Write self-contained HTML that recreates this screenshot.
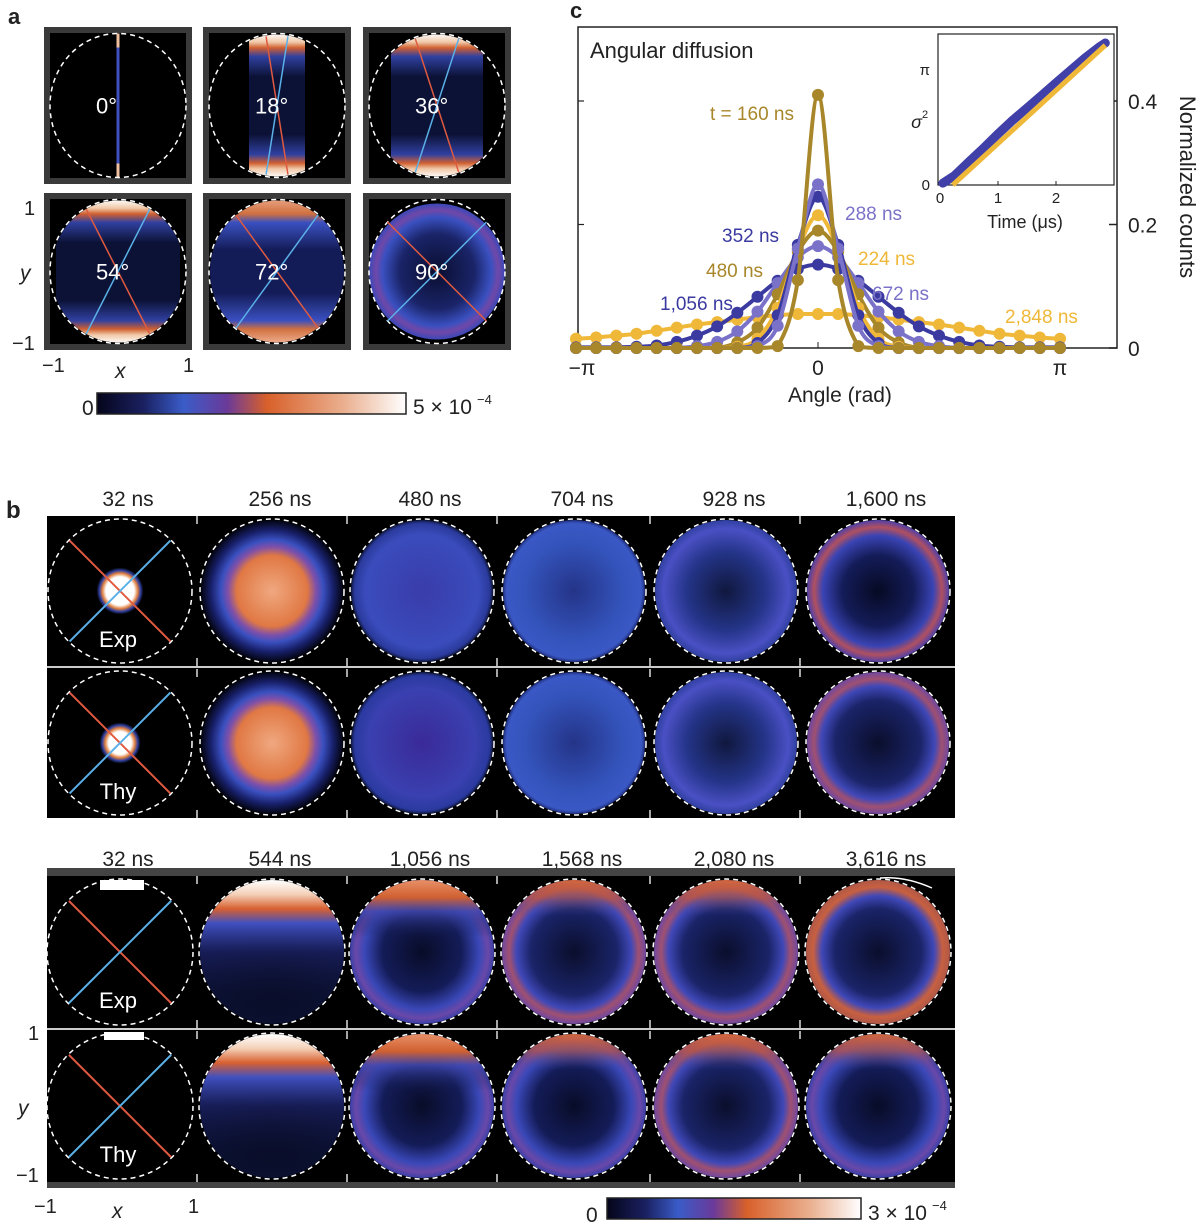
<!DOCTYPE html>
<html><head><meta charset="utf-8">
<style>
html,body{margin:0;padding:0;background:#fff;}
svg{display:block;font-family:"Liberation Sans",Arial,sans-serif;}
</style></head>
<body>
<svg id="fig" width="1200" height="1224" viewBox="0 0 1200 1224" xmlns="http://www.w3.org/2000/svg">
<defs id="defs">
<linearGradient id="cbar" x1="0" x2="1" y1="0" y2="0">
<stop offset="0" stop-color="#05051a"/><stop offset="0.15" stop-color="#1a2060"/><stop offset="0.28" stop-color="#3a5cc8"/><stop offset="0.42" stop-color="#6a3a9a"/><stop offset="0.55" stop-color="#d8602a"/><stop offset="0.8" stop-color="#eab090"/><stop offset="1" stop-color="#ffffff"/>
</linearGradient>
<radialGradient id="gDot"><stop offset="0" stop-color="#fff"/><stop offset="0.2" stop-color="#fff"/><stop offset="0.25" stop-color="#e08040"/><stop offset="0.29" stop-color="#3040a0"/><stop offset="0.33" stop-color="#000"/><stop offset="1" stop-color="#000"/></radialGradient>
<radialGradient id="gDotT"><stop offset="0" stop-color="#fff"/><stop offset="0.16" stop-color="#fff"/><stop offset="0.21" stop-color="#e08040"/><stop offset="0.25" stop-color="#3040a0"/><stop offset="0.29" stop-color="#000"/><stop offset="1" stop-color="#000"/></radialGradient>
<radialGradient id="g256"><stop offset="0" stop-color="#f0a880"/><stop offset="0.5" stop-color="#e07844"/><stop offset="0.62" stop-color="#8050a8"/><stop offset="0.72" stop-color="#3a50c0"/><stop offset="0.86" stop-color="#18206a"/><stop offset="1" stop-color="#03040f"/></radialGradient>
<radialGradient id="g480"><stop offset="0" stop-color="#3a3caa"/><stop offset="0.8" stop-color="#3a4cbc"/><stop offset="0.95" stop-color="#2a3a9c"/><stop offset="1" stop-color="#101840"/></radialGradient>
<radialGradient id="g480t"><stop offset="0" stop-color="#3a2a98"/><stop offset="0.75" stop-color="#3a40b0"/><stop offset="0.95" stop-color="#2a3aa0"/><stop offset="1" stop-color="#101840"/></radialGradient>
<radialGradient id="g704"><stop offset="0" stop-color="#243488"/><stop offset="0.7" stop-color="#3454bc"/><stop offset="0.95" stop-color="#3a58c4"/><stop offset="1" stop-color="#203080"/></radialGradient>
<radialGradient id="g928"><stop offset="0" stop-color="#10183e"/><stop offset="0.55" stop-color="#243488"/><stop offset="0.88" stop-color="#4a50c4"/><stop offset="1" stop-color="#3040a0"/></radialGradient>
<radialGradient id="g1600"><stop offset="0" stop-color="#060a24"/><stop offset="0.5" stop-color="#141c58"/><stop offset="0.78" stop-color="#3a44b4"/><stop offset="0.9" stop-color="#b05060"/><stop offset="1" stop-color="#5040a8"/></radialGradient>
<radialGradient id="gRing"><stop offset="0" stop-color="#080c28"/><stop offset="0.55" stop-color="#141c58"/><stop offset="0.8" stop-color="#3a48b8"/><stop offset="0.92" stop-color="#6a48a8"/><stop offset="1" stop-color="#3a40a8"/></radialGradient>
<radialGradient id="gRingM"><stop offset="0" stop-color="#0a0e2c"/><stop offset="0.6" stop-color="#1a2468"/><stop offset="0.8" stop-color="#4048b8"/><stop offset="0.9" stop-color="#a05070"/><stop offset="1" stop-color="#7048a0"/></radialGradient>
<radialGradient id="gRingO"><stop offset="0" stop-color="#0a0e2c"/><stop offset="0.6" stop-color="#1a2468"/><stop offset="0.78" stop-color="#4048b8"/><stop offset="0.9" stop-color="#c86040"/><stop offset="1" stop-color="#b05848"/></radialGradient>
<radialGradient id="gBlack"><stop offset="0" stop-color="#05081a"/><stop offset="1" stop-color="#0a1030"/></radialGradient>
<linearGradient id="gTop544" x1="0" x2="0" y1="0" y2="1"><stop offset="0" stop-color="#fff"/><stop offset="0.1" stop-color="#f4d0b8"/><stop offset="0.2" stop-color="#d86030"/><stop offset="0.3" stop-color="#4050c0" stop-opacity="1"/><stop offset="0.5" stop-color="#1a2060" stop-opacity="0.8"/><stop offset="1" stop-color="#05081a" stop-opacity="0"/></linearGradient>
<linearGradient id="gTop1056" x1="0" x2="0" y1="0" y2="1"><stop offset="0" stop-color="#e89068"/><stop offset="0.12" stop-color="#d06030"/><stop offset="0.22" stop-color="#4048b0" stop-opacity="0.8"/><stop offset="0.4" stop-color="#141c50" stop-opacity="0"/><stop offset="1" stop-color="#0a1030" stop-opacity="0"/></linearGradient>
<linearGradient id="gTopSoft" x1="0" x2="0" y1="0" y2="1"><stop offset="0" stop-color="#d86838" stop-opacity="0.95"/><stop offset="0.12" stop-color="#c05838" stop-opacity="0.6"/><stop offset="0.25" stop-color="#3a48b0" stop-opacity="0"/><stop offset="1" stop-color="#000" stop-opacity="0"/></linearGradient>
<linearGradient id="gCapA" x1="0" x2="0" y1="0" y2="1"><stop offset="0" stop-color="#fff"/><stop offset="0.06" stop-color="#f0c8a8"/><stop offset="0.1" stop-color="#d06030"/><stop offset="0.16" stop-color="#3040a0"/><stop offset="0.3" stop-color="#0c1236"/><stop offset="0.7" stop-color="#0c1236"/><stop offset="0.84" stop-color="#3040a0"/><stop offset="0.9" stop-color="#d06030"/><stop offset="0.94" stop-color="#f0c8a8"/><stop offset="1" stop-color="#fff"/></linearGradient>
<linearGradient id="gCapB" x1="0" x2="0" y1="0" y2="1"><stop offset="0" stop-color="#e8a080"/><stop offset="0.1" stop-color="#d07040"/><stop offset="0.16" stop-color="#3a50c0"/><stop offset="0.35" stop-color="#141c58"/><stop offset="0.65" stop-color="#141c58"/><stop offset="0.84" stop-color="#3a50c0"/><stop offset="0.9" stop-color="#d07040"/><stop offset="1" stop-color="#f0b090"/></linearGradient>
<radialGradient id="gA90"><stop offset="0" stop-color="#0a0e30"/><stop offset="0.55" stop-color="#1a2468"/><stop offset="0.8" stop-color="#3a50c0"/><stop offset="0.9" stop-color="#7048a8"/><stop offset="1" stop-color="#3a48b8"/></radialGradient>
</defs>
<g id="panelA"></g>
<g id="panelB"></g>
<g id="panelC"></g>
</svg>
<script>
// ---------- Panel c data ----------
const angleSteps = [-12,-11,-10,-9,-8,-7,-6,-5,-4,-3,-2,-1,0,1,2,3,4,5,6,7,8,9,10,11,12]; // multiples of pi/12
const seriesNames = ["2,848 ns","1,056 ns","672 ns","480 ns","224 ns","352 ns","288 ns","160 ns"];
const seriesColors = ["#f0b838","#3a3aa0","#7a72c8","#a8862a","#f0b838","#3a3aa0","#7a72c8","#a8862a"];
const s2848 = [0.015,0.017,0.020,0.023,0.028,0.033,0.038,0.042,0.046,0.050,0.053,0.055,0.055,0.055,0.053,0.050,0.046,0.042,0.038,0.033,0.028,0.023,0.020,0.017,0.015];
const s1056 = [0.001,0.001,0.001,0.002,0.004,0.010,0.020,0.035,0.057,0.083,0.109,0.128,0.135,0.128,0.109,0.083,0.057,0.035,0.020,0.010,0.004,0.002,0.001,0.001,0.001];
const s672  = [0,0,0,0,0,0,0.003,0.010,0.027,0.059,0.105,0.147,0.165,0.147,0.105,0.059,0.027,0.010,0.003,0,0,0,0,0,0];
const s480  = [0,0,0,0,0,0,0,0,0.009,0.033,0.087,0.156,0.190,0.156,0.087,0.033,0.009,0,0,0,0,0,0,0,0];
const s224  = [0,0,0,0,0,0,0,0,0.002,0.015,0.065,0.160,0.215,0.160,0.065,0.015,0.002,0,0,0,0,0,0,0,0];
const s352  = [0,0,0,0,0,0,0,0,0,0.008,0.053,0.167,0.245,0.167,0.053,0.008,0,0,0,0,0,0,0,0,0];
const s288  = [0,0,0,0,0,0,0,0,0,0.003,0.036,0.161,0.265,0.161,0.036,0.003,0,0,0,0,0,0,0,0,0];
const s160  = [0,0,0,0,0,0,0,0,0,0,0.003,0.110,0.410,0.110,0.003,0,0,0,0,0,0,0,0,0,0];
const seriesValues = [s2848,s1056,s672,s480,s224,s352,s288,s160];
const yTicks = [0,0.2,0.4];
const yTickLabels = ["0","0.2","0.4"];
// inset
const insetTime = [0.05,0.25,0.5,0.75,1.0,1.25,1.5,1.75,2.0,2.25,2.5,2.75,2.85];
const insetSigma = [0.05,0.25,0.62,0.98,1.36,1.72,2.05,2.38,2.72,3.05,3.38,3.68,3.78];
const insetFitT = [0.22,2.85];
const insetFitS = [0.0,3.72];

const NS = "http://www.w3.org/2000/svg";
function mk(tag, attrs, parent, name) {
  const el = document.createElementNS(NS, tag);
  for (const k in attrs) el.setAttribute(k, attrs[k]);
  
  
  parent.appendChild(el);
  return el;
}
function txt(x, y, s, size, parent, name, extra) {
  const a = Object.assign({x: x, y: y, 'font-size': size, fill: '#222'}, extra || {});
  const t = mk('text', a, parent, name);
  t.textContent = s;
  return t;
}
function smooth(pts) {
  let d = 'M' + pts[0][0] + ',' + pts[0][1];
  for (let i = 0; i < pts.length - 1; i++) {
    const p0 = pts[Math.max(0, i - 1)], p1 = pts[i], p2 = pts[i + 1], p3 = pts[Math.min(pts.length - 1, i + 2)];
    const c1x = p1[0] + (p2[0] - p0[0]) / 6, c1y = p1[1] + (p2[1] - p0[1]) / 6;
    const c2x = p2[0] - (p3[0] - p1[0]) / 6, c2y = p2[1] - (p3[1] - p1[1]) / 6;
    d += 'C' + c1x + ',' + Math.min(348, c1y) + ' ' + c2x + ',' + Math.min(348, c2y) + ' ' + p2[0] + ',' + p2[1];
  }
  return d;
}

// ---------- Panel C ----------
const C = document.getElementById('panelC');
const X0 = 818, XPI = 242, Y0 = 348, YS = 617.5;
function xs(k) { return X0 + k / 12 * XPI; }
function ys(v) { return Y0 - v * YS; }
txt(570, 18, 'c', 22, C, 'panel-c-label', {'font-weight': 'bold'});
mk('rect', {x: 578, y: 27, width: 539, height: 321, fill: 'none', stroke: '#222', 'stroke-width': 1.5}, C, 'plot-frame');
txt(590, 58, 'Angular diffusion', 22, C, 'chart-title');
for (let i = 0; i < yTicks.length; i++) {
  mk('line', {x1: 1117, x2: 1109, y1: ys(yTicks[i]), y2: ys(yTicks[i]), stroke: '#222', 'stroke-width': 1.5}, C, 'y-tick');
  mk('line', {x1: 578, x2: 584, y1: ys(yTicks[i]), y2: ys(yTicks[i]), stroke: '#222', 'stroke-width': 1.2}, C, 'y-tick-left');
  txt(1128, ys(yTicks[i]) + 8, yTickLabels[i], 21, C, 'y-tick-label');
}
mk('line', {x1: X0, x2: X0, y1: 348, y2: 342, stroke: '#222'}, C, 'x-tick');
txt(582, 375, '−π', 21, C, 'x-tick-label', {'text-anchor': 'middle'});
txt(818, 375, '0', 21, C, 'x-tick-label', {'text-anchor': 'middle'});
txt(1060, 375, 'π', 21, C, 'x-tick-label', {'text-anchor': 'middle'});
txt(840, 402, 'Angle (rad)', 21, C, 'x-axis-title', {'text-anchor': 'middle'});
txt(1180, 187, 'Normalized counts', 22, C, 'y-axis-title', {'text-anchor': 'middle', transform: 'rotate(90 1180 187)'});
const G = mk('g', {}, C, 'series-group');
for (let s = 0; s < seriesValues.length; s++) {
  const vals = seriesValues[s];
  const pts = [];
  for (let i = 0; i < angleSteps.length; i++) pts.push([xs(angleSteps[i]), ys(vals[i])]);
  mk('path', {d: smooth(pts), fill: 'none', stroke: seriesColors[s], 'stroke-width': 4, 'stroke-linejoin': 'round'}, G, 'series-line-' + s);
  for (let i = 0; i < angleSteps.length; i++) {
    mk('circle', {cx: xs(angleSteps[i]), cy: ys(vals[i]), r: 6, fill: seriesColors[s]}, G, 'data-point');
  }
}
const lab = [["t = 160 ns",710,120,"#a8862a"],["288 ns",845,220,"#7a72c8"],["352 ns",722,242,"#3a3aa0"],["224 ns",858,265,"#f0b838"],["480 ns",706,277,"#a8862a"],["672 ns",872,300,"#7a72c8"],["1,056 ns",660,310,"#3a3aa0"],["2,848 ns",1005,323,"#f0b838"]];
for (const L of lab) txt(L[1], L[2], L[0], 19, C, 'series-label', {fill: L[3]});
// inset
const IX0 = 940, IXS = 58, IY0 = 185, IYS = 118 / Math.PI;
mk('rect', {x: 938, y: 34, width: 176, height: 151, fill: '#fff', stroke: '#222', 'stroke-width': 1.2}, C, 'inset-frame');
txt(930, 75, 'π', 15, C, 'inset-y-tick', {'text-anchor': 'end'});
txt(930, 190, '0', 15, C, 'inset-y-tick', {'text-anchor': 'end'});
txt(922, 128, 'σ', 18, C, 'inset-y-title', {'font-style': 'italic', 'text-anchor': 'end'});
txt(922, 118, '2', 11, C, 'inset-y-title-exp');
const itl = [[0,'0'],[1,'1'],[2,'2']];
for (const t of itl) { txt(IX0 + t[0] * IXS, 203, t[1], 15, C, 'inset-x-tick', {'text-anchor': 'middle'}); mk('line', {x1: IX0 + t[0] * IXS, x2: IX0 + t[0] * IXS, y1: 185, y2: 181, stroke: '#222'}, C, 'inset-x-tickmark'); }
txt(1025, 228, 'Time (μs)', 18, C, 'inset-x-title', {'text-anchor': 'middle'});
let idp = '';
for (let i = 0; i < insetTime.length; i++) idp += (i ? 'L' : 'M') + (IX0 + insetTime[i] * IXS) + ',' + (IY0 - insetSigma[i] * IYS);
mk('path', {d: idp, fill: 'none', stroke: '#4040a8', 'stroke-width': 9, 'stroke-linecap': 'round'}, C, 'inset-data');
mk('line', {x1: IX0 + insetFitT[0] * IXS, y1: IY0 - insetFitS[0] * IYS, x2: IX0 + insetFitT[1] * IXS, y2: IY0 - insetFitS[1] * IYS, stroke: '#f0b838', 'stroke-width': 5}, C, 'inset-fit');

// ---------- Panel A ----------
const A = document.getElementById('panelA');
const defs = document.getElementById('defs');
txt(8, 24, 'a', 22, A, 'panel-a-label', {'font-weight': 'bold'});
const aX = [44, 203, 363], aY = [27, 193], aW = 148, aH = 157;
const aLabels = ['0°','18°','36°','54°','72°','90°'];
for (let r = 0; r < 2; r++) for (let c = 0; c < 3; c++) {
  const i = r * 3 + c, x = aX[c], y = aY[r];
  const g = mk('g', {}, A, 'angle-frame-' + aLabels[i]);
  mk('rect', {x: x, y: y, width: aW, height: aH, fill: '#3a3a3a'}, g, 'frame-border');
  mk('rect', {x: x + 6, y: y + 6, width: aW - 12, height: aH - 12, fill: '#000'}, g, 'frame-bg');
  const cx = x + aW / 2, cy = y + aH / 2, rx = 68, ry = 72;
  const cp = mk('clipPath', {id: 'clipA' + i}, defs, 'clip');
  mk('ellipse', {cx: cx, cy: cy, rx: rx - 1, ry: ry - 1}, cp, 'clip-shape');
  const half = [0, 28, 46, 62, 68, 68][i];
  if (i === 0) {
    mk('rect', {x: cx - 1.5, y: cy - ry, width: 3, height: 2 * ry, fill: '#4050c0'}, g, 'density-line');
    mk('rect', {x: cx - 1.5, y: cy - ry, width: 3, height: 14, fill: '#f0c0a0'}, g, 'cap');
    mk('rect', {x: cx - 1.5, y: cy + ry - 14, width: 3, height: 14, fill: '#f0c0a0'}, g, 'cap');
  } else if (i < 5) {
    mk('rect', {x: cx - half, y: cy - ry, width: 2 * half, height: 2 * ry, fill: i < 4 ? 'url(#gCapA)' : 'url(#gCapB)', 'clip-path': 'url(#clipA' + i + ')'}, g, 'density');
  } else {
    mk('circle', {cx: cx, cy: cy, r: 68, fill: 'url(#gA90)'}, g, 'density');
  }
  mk('ellipse', {cx: cx, cy: cy, rx: rx, ry: ry, fill: 'none', stroke: '#fff', 'stroke-width': 1.5, 'stroke-dasharray': '5,4'}, g, 'unit-circle');
  if (i > 0) {
    const th = i * 18 * Math.PI / 180 / 2;
    const dx = 70 * Math.sin(th), dy = 70 * Math.cos(th);
    mk('line', {x1: cx - dx, y1: cy - dy, x2: cx + dx, y2: cy + dy, stroke: '#e05a40', 'stroke-width': 1.5}, g, 'red-axis');
    mk('line', {x1: cx + dx, y1: cy - dy, x2: cx - dx, y2: cy + dy, stroke: '#5ab0e8', 'stroke-width': 1.5}, g, 'blue-axis');
  }
  txt(cx - 22, cy + 8, aLabels[i], 22, g, 'angle-label', {fill: '#fff'});
}
txt(24, 215, '1', 20, A, 'y-tick-label');
txt(20, 280, 'y', 21, A, 'y-axis-title', {'font-style': 'italic'});
txt(12, 350, '−1', 20, A, 'y-tick-label');
txt(42, 372, '−1', 20, A, 'x-tick-label');
txt(115, 378, 'x', 21, A, 'x-axis-title', {'font-style': 'italic'});
txt(183, 372, '1', 20, A, 'x-tick-label');
txt(82, 415, '0', 21, A, 'colorbar-min');
mk('rect', {x: 97, y: 393, width: 309, height: 21, fill: 'url(#cbar)', stroke: '#222', 'stroke-width': 1.5}, A, 'colorbar-a');
txt(413, 414, '5 × 10', 21, A, 'colorbar-max');
txt(477, 404, '−4', 13, A, 'colorbar-exp');

// ---------- Panel B ----------
const B = document.getElementById('panelB');
txt(6, 518, 'b', 24, B, 'panel-b-label', {'font-weight': 'bold'});
const colX = [120, 272, 422, 574, 726, 878];
const bounds = [47, 197, 347, 497, 650, 800, 955];
function block(top, rowH, labels, fills, overlays, cr) {
  const g = mk('g', {}, B, 'heatmap-block');
  mk('rect', {x: 47, y: top, width: 908, height: rowH * 2 + 2, fill: '#000'}, g, 'block-bg');
  mk('line', {x1: 47, x2: 955, y1: top + rowH + 1, y2: top + rowH + 1, stroke: '#ccc', 'stroke-width': 2}, g, 'row-divider');
  for (let b = 1; b < 6; b++) {
    for (const yy of [top, top + rowH - 8, top + rowH + 3, top + 2 * rowH - 6]) mk('line', {x1: bounds[b], x2: bounds[b], y1: yy, y2: yy + 8, stroke: '#ddd', 'stroke-width': 1.5}, g, 'tick');
  }
  for (let c = 0; c < 6; c++) {
    txt(colX[c] + 8, top - 10, labels[c], 21, B, 'time-label', {'text-anchor': 'middle'});
    for (let r = 0; r < 2; r++) {
      const cy = top + rowH / 2 + r * (rowH + 2);
      mk('circle', {cx: colX[c], cy: cy, r: cr, fill: fills[r][c]}, g, 'heatmap-disk');
      if (overlays && overlays[r][c]) mk('circle', {cx: colX[c], cy: cy, r: cr, fill: overlays[r][c]}, g, 'heatmap-overlay');
      mk('circle', {cx: colX[c], cy: cy, r: cr + 1, fill: 'none', stroke: '#fff', 'stroke-width': 1.5, 'stroke-dasharray': '5,4'}, g, 'unit-circle');
      if (c === 0) {
        const d = cr * 0.71;
        mk('line', {x1: colX[c] - d, y1: cy - d, x2: colX[c] + d, y2: cy + d, stroke: '#e05a40', 'stroke-width': 2}, g, 'red-axis');
        mk('line', {x1: colX[c] - d, y1: cy + d, x2: colX[c] + d, y2: cy - d, stroke: '#5ab0e8', 'stroke-width': 2}, g, 'blue-axis');
        txt(colX[c] - 2, cy + 56, r === 0 ? 'Exp' : 'Thy', 22, g, 'row-label', {fill: '#fff', 'text-anchor': 'middle'});
      }
    }
  }
}
block(516, 150, ['32 ns','256 ns','480 ns','704 ns','928 ns','1,600 ns'],
  [['url(#gDot)','url(#g256)','url(#g480)','url(#g704)','url(#g928)','url(#g1600)'],
   ['url(#gDotT)','url(#g256)','url(#g480t)','url(#g704)','url(#g928)','url(#gRingM)']], null, 71);
mk('rect', {x: 47, y: 868, width: 908, height: 8, fill: '#444'}, B, 'block-top-bar');
block(876, 152, ['32 ns','544 ns','1,056 ns','1,568 ns','2,080 ns','3,616 ns'],
  [['#000','url(#gBlack)','url(#gRing)','url(#gRingM)','url(#gRingM)','url(#gRingO)'],
   ['#000','url(#gBlack)','url(#gRing)','url(#gRing)','url(#gRingM)','url(#gRing)']],
  [[null,'url(#gTop544)','url(#gTop1056)','url(#gTopSoft)','url(#gTopSoft)',null],
   [null,'url(#gTop544)','url(#gTop1056)','url(#gTopSoft)','url(#gTopSoft)','url(#gTopSoft)']], 72);
mk('rect', {x: 47, y: 1182, width: 908, height: 6, fill: '#444'}, B, 'block-bottom-bar');
mk('rect', {x: 100, y: 880, width: 44, height: 10, fill: '#fff'}, B, 'top-cap-exp');
mk('rect', {x: 104, y: 1032, width: 40, height: 8, fill: '#fff'}, B, 'top-cap-thy');
mk('path', {d: 'M880,878 Q905,876 932,888', fill: 'none', stroke: '#fff', 'stroke-width': 1.5}, B, 'arc-marker');
txt(28, 1040, '1', 20, B, 'y-tick-label');
txt(18, 1115, 'y', 21, B, 'y-axis-title', {'font-style': 'italic'});
txt(16, 1182, '−1', 20, B, 'y-tick-label');
txt(34, 1213, '−1', 20, B, 'x-tick-label');
txt(112, 1218, 'x', 21, B, 'x-axis-title', {'font-style': 'italic'});
txt(188, 1213, '1', 20, B, 'x-tick-label');
txt(586, 1222, '0', 21, B, 'colorbar-min');
mk('rect', {x: 607, y: 1198, width: 254, height: 21, fill: 'url(#cbar)', stroke: '#222', 'stroke-width': 1.5}, B, 'colorbar-b');
txt(868, 1220, '3 × 10', 21, B, 'colorbar-max');
txt(932, 1210, '−4', 13, B, 'colorbar-exp');
</script>
</body></html>
